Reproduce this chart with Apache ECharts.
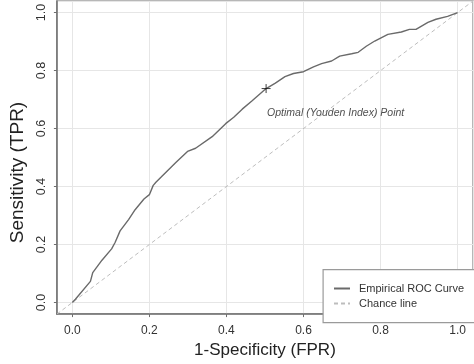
<!DOCTYPE html>
<html><head><meta charset="utf-8">
<script src="https://cdn.jsdelivr.net/npm/echarts@6/dist/echarts.min.js"></script>
<style>html,body{margin:0;padding:0;background:#fff}#c{width:474px;height:364px}</style>
</head><body><div id="c"></div>
<script>
// ROC curve points
const fpr = [0, 0.008, 0.047, 0.053, 0.077, 0.102, 0.111, 0.124, 0.146, 0.163, 0.186, 0.200, 0.210, 0.217, 0.230, 0.251, 0.268, 0.299, 0.320, 0.363, 0.398, 0.419, 0.441, 0.466, 0.503, 0.527, 0.552, 0.574, 0.600, 0.626, 0.647, 0.673, 0.694, 0.725, 0.742, 0.763, 0.785, 0.819, 0.854, 0.875, 0.892, 0.923, 0.944, 0.974, 1.0];
const tpr = [0, 0.011, 0.073, 0.103, 0.146, 0.185, 0.207, 0.247, 0.286, 0.320, 0.357, 0.372, 0.404, 0.415, 0.432, 0.460, 0.482, 0.521, 0.532, 0.572, 0.617, 0.639, 0.667, 0.695, 0.738, 0.757, 0.779, 0.790, 0.796, 0.813, 0.824, 0.833, 0.850, 0.858, 0.863, 0.884, 0.902, 0.925, 0.933, 0.942, 0.942, 0.966, 0.977, 0.987, 1.0];
const chanceX = [-0.04, 1.04];
const chanceY = [-0.04, 1.04];
const optimalPoint = [0.503, 0.738];
const optimalLabel = 'Optimal (Youden Index) Point';
const seriesNames = ['Empirical ROC Curve', 'Chance line'];
const xTitle = '1-Specificity (FPR)';
const yTitle = 'Sensitivity (TPR)';
const axisMin = -0.04, axisMax = 1.04;

const FONT = '"Liberation Sans", Arial, sans-serif';
const chart = echarts.init(document.getElementById('c'), null, {renderer: 'canvas'});
const fmt = v => (Math.abs(v - Math.round(v * 5) / 5) < 1e-6) ? v.toFixed(1) : '';
const axisCommon = {
  type: 'value', min: axisMin, max: axisMax, splitNumber: 5,
  axisLine: {show: true, onZero: false, lineStyle: {color: '#6e6e6e', width: 1.5}},
  axisTick: {show: true, length: 3, lineStyle: {color: '#6e6e6e'}},
  splitLine: {show: true, lineStyle: {color: '#e6e6e6', width: 1}},
  nameLocation: 'middle'
};
chart.setOption({
  animation: false,
  backgroundColor: '#fff',
  grid: {left: 54, top: 1, right: 1, bottom: 42, show: true, borderColor: '#a0a0a0', borderWidth: 1.5, containLabel: false},
  xAxis: Object.assign({}, axisCommon, {
    name: xTitle, nameGap: 25,
    nameTextStyle: {fontFamily: FONT, fontSize: 17, color: '#222'},
    axisLabel: {fontFamily: FONT, fontSize: 12, color: '#333', margin: 11, formatter: fmt, showMinLabel: false, showMaxLabel: false}
  }),
  yAxis: Object.assign({}, axisCommon, {
    name: yTitle, nameGap: 22,
    nameTextStyle: {fontFamily: FONT, fontSize: 19, color: '#222', padding: [0, 30, 0, 0]},
    axisLabel: {fontFamily: FONT, fontSize: 12.5, color: '#333', margin: 9, rotate: 90, formatter: fmt, showMinLabel: false, showMaxLabel: false}
  }),
  legend: {
    data: seriesNames, orient: 'vertical', left: 333, top: 283,
    itemWidth: 16, itemHeight: 8, itemGap: 4, padding: 0,
    itemStyle: {opacity: 0},
    textStyle: {fontFamily: FONT, fontSize: 11, color: '#333', padding: [0, 0, 0, 4]}
  },
  graphic: [{
    type: 'rect', left: 322.5, top: 269, z: 1,
    shape: {width: 160, height: 53},
    style: {fill: '#fff', stroke: '#9a9a9a', lineWidth: 1.2}
  }],
  series: [
    {
      name: seriesNames[1], type: 'line', symbol: 'none', z: 2,
      data: chanceX.map((x, i) => [x, chanceY[i]]),
      lineStyle: {color: '#bdbdbd', width: 1, type: [4, 3]}, itemStyle: {color: '#bdbdbd'}
    },
    {
      name: seriesNames[0], type: 'line', symbol: 'none', z: 3,
      data: fpr.map((x, i) => [x, tpr[i]]),
      lineStyle: {color: '#6a6a6a', width: 1.4}, itemStyle: {color: '#6a6a6a'}
    },
    {
      name: 'optimal', type: 'scatter', z: 4,
      data: [optimalPoint],
      symbol: 'path://M0,5 L10,5 M5,0 L5,10', symbolSize: 9,
      itemStyle: {color: 'rgba(0,0,0,0)', borderColor: '#111', borderWidth: 1},
      label: {show: true, formatter: optimalLabel, position: [6, 24],
        fontFamily: FONT, fontSize: 10.5, fontStyle: 'italic', color: '#222'}
    }
  ]
});
</script></body></html>
